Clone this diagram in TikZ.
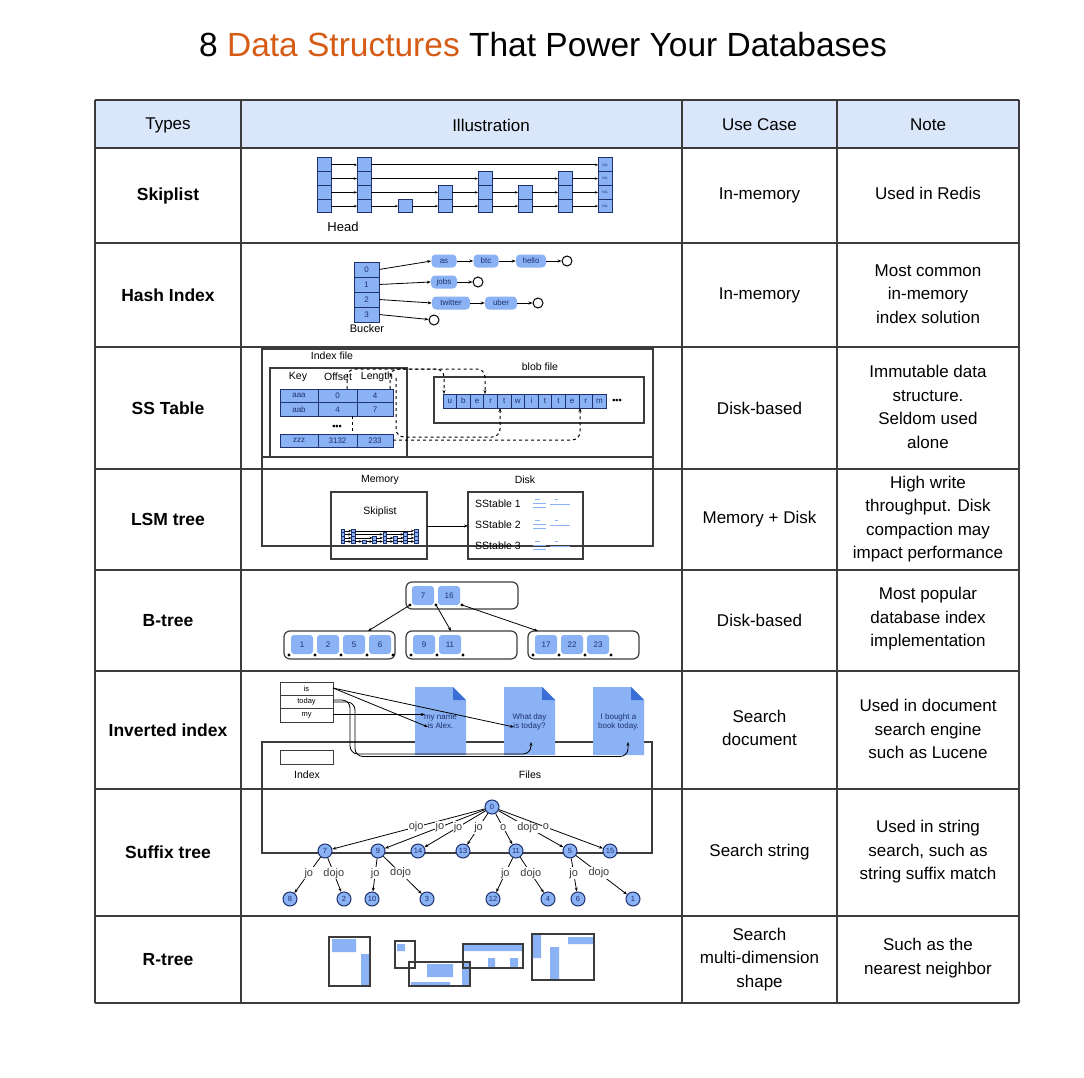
\documentclass[tikz,border=0pt]{standalone}
\usepackage{fontspec}
\setmainfont{Liberation Sans}
\usetikzlibrary{arrows.meta}
\definecolor{hdr}{RGB}{218,230,250}
\definecolor{bl}{RGB}{138,178,245}
\definecolor{fold}{RGB}{60,110,215}
\definecolor{nv}{RGB}{30,50,110}
\definecolor{org}{RGB}{214,92,22}
\definecolor{grd}{RGB}{60,60,60}
\tikzset{
 cell/.style={font=\fontsize{17}{23.5}\selectfont,align=center},
 rowl/.style={font=\bfseries\fontsize{17.5}{23}\selectfont},
 sk/.style={fill=bl,draw=nv,line width=1pt},
 arr/.style={-{Stealth[length=4pt,width=3pt]},line width=0.8pt,draw=black},
 pill/.style={fill=bl,rounded corners=4pt,minimum height=13pt,inner sep=1pt,font=\fontsize{8}{9}\selectfont,text=nv},
 tiny/.style={font=\fontsize{8}{9}\selectfont,text=nv},
 lbl/.style={font=\fontsize{10.5}{12}\selectfont},
 sn/.style={circle,fill=bl,draw=nv,line width=1pt,minimum size=14pt,inner sep=0pt,font=\fontsize{7.5}{8}\selectfont,text=nv},
 el/.style={fill=white,inner sep=1pt,font=\fontsize{11}{12}\selectfont,text=grd},
 bk/.style={fill=bl,rounded corners=3pt},
 dsh/.style={dashed,line width=1pt,rounded corners=8pt,-{Stealth[length=4pt,width=3pt]}},
}
\newcommand{\myskip}[1]{%
 \foreach \x/\n in {0/4,40/4,81/1,121/2,161/3,201/2,241/3,281/4}{
   \foreach \l in {1,...,\n}{\draw[sk,line width=#1] (\x,{55-13.75*\l}) rectangle ++(14,13.75);}}
 \foreach \y/\lst in {48.1/{0,40,81,121,161,201,241,281},34.4/{0,40,121,161,201,241,281},20.6/{0,40,161,241,281},6.9/{0,40,281}}{
   \foreach \a [remember=\a as \p (initially -100)] in \lst {
     \ifdim \p pt>-50pt \draw[line width=#1,-{Stealth[length=3pt,width=2.5pt]}] (\p+14,\y) -- (\a,\y);\fi}}}
\begin{document}
\begin{tikzpicture}[x=1pt,y=-1pt]
\useasboundingbox (0,0) rectangle (1084,1078);
\fill[white] (0,0) rectangle (1084,1078);
% title
\node (title) at (543,45) {\fontsize{33.5}{38}\selectfont 8 \textcolor{org}{Data Structures} That Power Your Databases};
% table
\fill[hdr] (95,100) rectangle (1019,148);
\foreach \y in {100,148,243,347,469,570,671,789,916,1003}{\draw[grd,line width=1.3pt] (95,\y) -- (1019,\y);}
\foreach \x in {95,241,682,837,1019}{\draw[grd,line width=1.3pt] (\x,100) -- (\x,1003);}
\node[cell] (h1) at (168,125) {Types};
\node[cell] (h2) at (491,125) {Illustration};
\node[cell] (h3) at (759.5,125) {Use Case};
\node[cell] (h4) at (928,125) {Note};
\foreach \t/\y [count=\i] in {Skiplist/195.5,Hash Index/295,SS Table/408,LSM tree/519.5,B-tree/620.5,Inverted index/730,Suffix tree/852.5,R-tree/959.5}{
  \node[rowl] (r\i) at (168,\y) {\t};}
\foreach \t/\y [count=\i] in {In-memory/195.5,In-memory/295,Disk-based/408,Memory + Disk/519.5,Disk-based/620.5,Search\\document/728,Search string/852.5,Search\\multi-dimension\\shape/959.5}{
  \node[cell] (u\i) at (759.5,\y) {\t};}
\foreach \t/\y [count=\i] in {Used in Redis/193,Most common\\in-memory\\index solution/294,Immutable data\\structure.\\Seldom used\\alone/407,High write\\throughput. Disk\\compaction may\\impact performance/519,Most popular\\database index\\implementation/619,Used in document\\search engine\\such as Lucene/729,Used in string\\search{,} such as\\string suffix match/852,Such as the\\nearest neighbor/958}{
  \node[cell] (n\i) at (928,\y) {\t};}
% ---- skiplist
\begin{scope}[shift={(317,158)}]\myskip{1pt}\end{scope}
\foreach \l in {1,...,4}{\node[font=\fontsize{3.5}{4}\selectfont,text=nv] (nil\l) at (605,{213-13.75*\l+6.9}) {NIL};}
\node[font=\fontsize{13}{15}\selectfont] (head) at (343,227) {Head};
% ---- hash
\foreach \i in {0,...,3}{\draw[sk] (354,{262+15*\i}) rectangle ++(25,15); \node[tiny] (b\i) at (366.5,{269.5+15*\i}) {\i};}
\node[font=\fontsize{11}{13}\selectfont] (bucker) at (367,329) {Bucker};
\node[pill,minimum width=25pt] (as) at (444,261) {as};
\node[pill,minimum width=25pt] (btc) at (486,261) {btc};
\node[pill,minimum width=30pt] (hello) at (531,261) {hello};
\node[circle,draw,line width=1pt,minimum size=10pt,inner sep=0pt] (c0) at (567,261) {};
\node[pill,minimum width=26pt] (jobs) at (444,282) {jobs};
\node[circle,draw,line width=1pt,minimum size=10pt,inner sep=0pt] (c1) at (478,282) {};
\node[pill,minimum width=38pt] (tw) at (451,303) {twitter};
\node[pill,minimum width=32pt] (uber) at (501,303) {uber};
\node[circle,draw,line width=1pt,minimum size=10pt,inner sep=0pt] (c2) at (538,303) {};
\node[circle,draw,line width=1pt,minimum size=10pt,inner sep=0pt] (c3) at (434,320) {};
\draw[arr] (b0.center)++(12.5,0) -- (as.west);
\draw[arr] (as) -- (btc); \draw[arr] (btc) -- (hello); \draw[arr] (hello) -- (c0);
\draw[arr] (379,284.5) -- (jobs.west); \draw[arr] (jobs) -- (c1);
\draw[arr] (379,299.5) -- (tw.west); \draw[arr] (tw) -- (uber); \draw[arr] (uber) -- (c2);
\draw[arr] (379,314.5) -- (c3);
% ---- SS table
\draw[grd,line width=1.3pt] (262,349) rectangle (653,457);
\draw[grd,line width=1.3pt] (270,368) rectangle (407,457);
\node[font=\fontsize{10.5}{12}\selectfont] (ixf) at (332,356) {Index file};
\node[lbl] (key) at (298,377) {Key};
\node[lbl] (off) at (338,377) {Offset};
\node[lbl] (len) at (377,377) {Length};
\foreach \y/\a/\b/\c in {389/aaa/0/4,402.5/aab/4/7,434/zzz/3132/233}{
  \fill[bl] (280,\y) rectangle (393,\y+13.5);
  \draw[nv,line width=0.8pt] (280,\y) rectangle (393,\y+13.5) (318,\y)--(318,\y+13.5) (357,\y)--(357,\y+13.5);
  \node[tiny] at (299,\y+6.75) {\a}; \node[tiny] at (337.5,\y+6.75) {\b}; \node[tiny] at (375,\y+6.75) {\c};}
\node[font=\bfseries\fontsize{9}{10}\selectfont] (dots1) at (337,427) {•••};
\draw[grd,line width=1.3pt] (434,377) rectangle (644,423);
\node[font=\fontsize{10.5}{12}\selectfont] (blob) at (540,367) {blob file};
\foreach \c [count=\i from 0] in {u,b,e,r,t,w,i,t,t,e,r,m}{
  \draw[fill=bl,draw=nv,line width=0.8pt] ({443+13.6*\i},394) rectangle ++(13.6,14);
  \node[tiny] at ({449.8+13.6*\i},401) {\c};}
\node[font=\bfseries\fontsize{9}{10}\selectfont] (dots2) at (617,401) {•••};
\draw[dsh] (347,389) |- (444,369) -- (444,394);
\draw[dsh] (390,389) |- (485,369) -- (485,394);
\draw[dsh] (396,378) |- (500,437) -- (500,408);
\draw[dsh] (393,440) -| (580,408);
\draw[dashed,line width=1pt] (352,416) -- (352,434);
% ---- LSM
\draw[grd,line width=1.3pt] (262,457) rectangle (653,546);
\node[lbl] (mem) at (380,480) {Memory};
\node[lbl] (disk) at (525,480) {Disk};
\draw[grd,line width=1.3pt] (331,492) rectangle (427,559);
\node[lbl] (skl) at (380,512) {Skiplist};
\begin{scope}[shift={(341,529)},xscale=0.26,yscale=0.26]\myskip{0.4pt}\end{scope}
\draw[grd,line width=1.3pt] (468,492) rectangle (583,559);
\foreach \i/\y in {1/504,2/525,3/546}{
  \node[lbl] (ss\i) at (498,\y) {SStable \i};
  \draw[bl,line width=1pt] (533,\y-1) -- (546,\y-1) (550,\y) -- (570,\y);
  \draw[bl,line width=0.6pt] (533,\y+3) -- (546,\y+3) (535,\y-5)--(540,\y-5) (555,\y-5)--(558,\y-5);}
\draw[arr] (427,526) -- (468,526);
% ---- B-tree
\draw[grd,line width=1.2pt,rounded corners=6pt] (406,582) rectangle (518,609);
\node[bk,minimum width=22pt,minimum height=19pt,tiny] (k7) at (423,595.5) {7};
\node[bk,minimum width=22pt,minimum height=19pt,tiny] (k16) at (449,595.5) {16};
\foreach \bx/\lst/\nn in {284/{1,2,5,6}/4,406/{9,11}/2,528/{17,22,23}/3}{
  \draw[grd,line width=1.2pt,rounded corners=6pt] (\bx,631) rectangle (\bx+111,659);
  \foreach \v [count=\j from 0] in \lst {\node[bk,minimum width=22pt,minimum height=19pt,tiny] at ({\bx+18+26*\j},644.5) {\v};}
  \foreach \j in {0,...,\nn}{\fill ({\bx+5+26*\j},655) circle (1.6pt);}}
\fill (410,605) circle (1.6pt) (436,605) circle (1.6pt) (462,605) circle (1.6pt);
\draw[arr] (410,605) -- (368,631);
\draw[arr] (436,605) -- (451,631);
\draw[arr] (462,605) -- (538,631);
% ---- Inverted index
\draw[grd,line width=1.3pt] (262,853) -- (262,742) -- (652,742) -- (652,853) -- cycle;
\draw[grd,line width=1pt] (280,750) rectangle (333,764);
\node[lbl] (idx) at (307,775) {Index};
\node[lbl] (files) at (530,775) {Files};
\foreach \x/\t in {415/{my name\\is Alex.},504/{What day\\is today?},593/{I bought a\\book today.}}{
  \fill[bl] (\x,687) -- (\x+38,687) -- (\x+51,700) -- (\x+51,755) -- (\x,755) -- cycle;
  \fill[fold] (\x+38,687) -- (\x+51,700) -- (\x+38,700) -- cycle;
  \node[font=\fontsize{8}{9.5}\selectfont,align=center,text=nv] at (\x+25.5,722) {\t};}
\foreach \t [count=\i from 0] in {is,today,my}{
  \draw[fill=white,draw=grd,line width=0.8pt] (280,{682+13.3*\i}) rectangle ++(53,13.3);
  \node[font=\fontsize{7.5}{8}\selectfont] (ix\i) at (306.5,{688.5+13.3*\i}) {\t};}
\draw[arr] (333,688) -- (514,727);
\draw[arr] (333,688) -- (428,727);
\draw[arr] (333,714.5) -- (425,714.5);
\draw[arr,rounded corners=8pt] (333,700) -| (350,754) -| (531,742);
\draw[arr,rounded corners=8pt] (333,702) -| (355,756.5) -| (628,742);
% ---- Suffix tree
\node[sn] (s0) at (492,807) {0};
\foreach \n/\x in {7/325,9/378,14/418,13/463,11/516,5/570,15/610}{\node[sn] (s\n) at (\x,851) {\n};}
\foreach \n/\x in {8/290,2/344,10/372,3/427,12/493,4/548,6/578,1/633}{\node[sn] (s\n) at (\x,899) {\n};}
\foreach \a/\b/\t in {0/7/ojo,0/9/jo,0/14/jo,0/13/jo,0/11/o,0/5/dojo,0/15/o,7/8/jo,7/2/dojo,9/10/jo,9/3/dojo,11/12/jo,11/4/dojo,5/6/jo,5/1/dojo}{
  \draw[arr] (s\a) -- node[el,pos=0.45] {\t} (s\b);}
% ---- R-tree
\fill[bl] (332,939) rectangle (356,952) (361,954) rectangle (370,986);
\draw[grd,line width=1.2pt] (329,937) rectangle (370,986);
\fill[bl] (397,944) rectangle (405,951) (427,964) rectangle (453,977) (411,982) rectangle (450,986) (462,962) rectangle (470,986);
\fill[bl] (463,944) rectangle (523,951) (488,958) rectangle (495,967) (510,958) rectangle (518,967);
\draw[grd,line width=1.2pt] (395,941) rectangle (415,968);
\draw[grd,line width=1.2pt] (409,962) rectangle (470,986);
\draw[grd,line width=1.2pt] (463,944) rectangle (523,968);
\fill[bl] (532,934) rectangle (541,958) (550,947) rectangle (559,980) (568,937) rectangle (594,944);
\draw[grd,line width=1.2pt] (532,934) rectangle (594,980);
\end{tikzpicture}
\end{document}
